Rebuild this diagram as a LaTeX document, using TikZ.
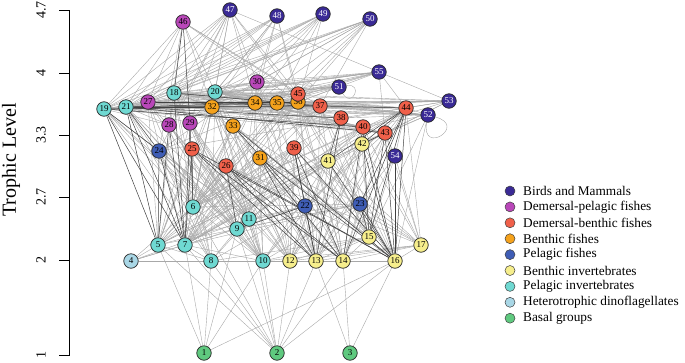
\documentclass[tikz,border=0pt]{standalone}
\usepackage{fontspec}
\setmainfont{Liberation Serif}
\usetikzlibrary{backgrounds}
\definecolor{cbm}{RGB}{58,42,150}
\definecolor{cdp}{RGB}{185,71,185}
\definecolor{cdb}{RGB}{240,96,74}
\definecolor{cbf}{RGB}{245,162,28}
\definecolor{cpf}{RGB}{63,93,181}
\definecolor{cbi}{RGB}{246,238,140}
\definecolor{cpi}{RGB}{111,217,210}
\definecolor{chd}{RGB}{169,215,230}
\definecolor{cbg}{RGB}{95,201,127}
\tikzset{
  sp/.style={circle,draw=black!85,line width=0.7pt,minimum size=14.5pt,inner sep=0pt,font=\fontsize{9}{9}\selectfont},
  bm/.style={sp,fill=cbm,text=white},
  dp/.style={sp,fill=cdp},
  db/.style={sp,fill=cdb},
  bf/.style={sp,fill=cbf},
  pf/.style={sp,fill=cpf},
  bi/.style={sp,fill=cbi},
  pi/.style={sp,fill=cpi},
  hd/.style={sp,fill=chd},
  bg/.style={sp,fill=cbg},
  weak/.style={draw=black!34,line width=0.4pt},
  strong/.style={draw=black!75,line width=0.5pt},
  key/.style={circle,draw=black!75,line width=0.5pt,minimum size=10pt,inner sep=0pt},
  keytext/.style={anchor=west,inner sep=0pt,font=\fontsize{13.3}{13.3}\selectfont}
}
\begin{document}
\begin{tikzpicture}[x=1pt,y=-1pt]
  \useasboundingbox (0,0) rectangle (685,362);
  \draw[line width=0.7pt] (69.5,10) -- (69.5,355);
  \foreach \v/\y in {4.7/10,4/73,3.3/135,2.7/197,2/260,1/355} {
    \draw[line width=0.7pt] (59,\y) -- (69.5,\y);
    \node[rotate=90,font=\fontsize{14}{14}\selectfont] (t\v) at (41,\y) {\v};
  }
  \node[rotate=90,font=\fontsize{20}{20}\selectfont] (ylab) at (11,160) {Trophic Level};

  \foreach \i/\x/\y in {1/204/353,2/277/353,3/350/353} \node[bg] (n\i) at (\x,\y) {\i};
  \node[hd] (n4) at (131,261) {4};
  \foreach \i/\x/\y in {5/158/245,6/193/207,7/185/245,8/211/261,9/237/229,10/263/261,11/249/219,18/174/93,19/104/109,20/215/92,21/126/107}
    \node[pi] (n\i) at (\x,\y) {\i};
  \foreach \i/\x/\y in {12/290/261,13/316/261,14/343/261,15/369/237,16/395/261,17/421/245,41/328/161,42/362/144}
    \node[bi] (n\i) at (\x,\y) {\i};
  \foreach \i/\x/\y in {22/305/206,23/360/204,24/159/151} \node[pf] (n\i) at (\x,\y) {\i};
  \foreach \i/\x/\y in {31/260/158,32/212/107,33/233/126,34/255/103,35/277/103,36/298/102}
    \node[bf] (n\i) at (\x,\y) {\i};
  \foreach \i/\x/\y in {25/192/149,26/226/166,37/320/106,38/341/118,39/294/148,40/363/127,43/385/133,44/406/108,45/298/94}
    \node[db] (n\i) at (\x,\y) {\i};
  \foreach \i/\x/\y in {27/148/102,28/169/125,29/190/123,30/257/82,46/183/22}
    \node[dp] (n\i) at (\x,\y) {\i};
  \foreach \i/\x/\y in {47/230/10,48/277/16,49/323/14,50/370/19,51/339/87,52/428/115,53/449/101,54/395/156,55/379/72}
    \node[bm] (n\i) at (\x,\y) {\i};

  \begin{scope}[on background layer]
    \foreach \p/\l in {5/{1,2,4,8},6/{2,4,8,10,5},7/{1,2,4,8,10},8/{1,2,4},9/{1,2,4,8,10},10/{1,2,4},
        11/{2,8,10,4,12},12/{2},13/{2,3,10,12},14/{2,3,10,13},15/{10,12,13,14,8},16/{1,2,3,10,12,13,14},
        17/{10,12,14,16,13},18/{5,6,8,9,11,10},19/{6,8,9,10,11},20/{5,7,9,10,11,8,6,12,13},21/{6,8,9,10,11},
        22/{5,7,10,11,8,12},23/{5,7,10,11,9,6,14},24/{6,8,9,10,11},25/{5,8,10,11,12,9},
        26/{5,6,7,10,11,12,15,17},27/{5,7,6,9,11,18,19,21},28/{6,9,10,11,18,19,21},
        29/{5,9,10,11,12,18,21},30/{18,19,21,20,6,9,11,24,12,13,14},31/{5,6,7,10,12,15,17},
        32/{5,6,7,10,11,13,14,18,20,16,12},33/{5,6,7,10,12,14,15,17},34/{6,7,10,13,14,19,21,18,20,27},
        35/{6,7,12,13,15,16,19,21,18,20},36/{6,7,12,13,14,15,16,19,18},
        37/{6,7,9,13,14,15,16,19,27,20,32},38/{6,7,12,15,16,19,27,18,20},39/{5,6,7,12,15,17,9,11},
        40/{6,7,9,12,13,17,21,27,18,20,41,19,32,34},41/{5,7,10,12,13,14,15,17,9,11},42/{5,7,10,12,13,14,15,17},
        43/{6,7,13,14,17,19,27,18,20,22,41,21,32,34},44/{5,6,7,12,13,17,19,21,18,20,22,24,32,27,36,34,35},
        45/{6,7,9,13,14,16,19,21,27,18,20,24,26},46/{19,21,27,28,20,32,36,24,37,45},
        47/{19,21,27,18,20,32,24,28,29,34,55,30,36,45},48/{21,27,18,20,32,34,19,29,36,45,30},
        49/{21,18,20,32,34,27,35,36,19,30},50/{21,27,18,20,32,34,35,19,36,45,30,37},
        51/{19,21,27,18,20,32,34,35,36,30},
        52/{18,20,32,34,35,36,38,40,43,44,42,16,15,37,19,21,27},53/{18,21,20,32,34,36,37,38,40,43,44,55,42,19,27},
        54/{15,17,13,14,43,44},55/{19,21,27,18,20,32,30,34,35,45,36,43,44}}
      {\foreach \q in \l {\draw[weak] (n\q) -- (n\p);}}
    \foreach \p/\l in {46/{18,29},24/{5,7,19,21},25/{6,7,13,14,16},26/{13,14,16,9},28/{7,5},29/{7,6},
        31/{13,14,16},33/{16,22},37/{21,18},38/{13,41,21},39/{13,14,16,22},40/{14,15,16,19},
        43/{15,16,42,21},44/{14,15,16,41,42,23,27},22/{13,9},23/{16,15},41/{16},42/{16},54/{16},
        18/{7},19/{5,7},21/{5,7},32/{19,21},36/{27,21}}
      {\foreach \q in \l {\draw[strong] (n\q) -- (n\p);}}
    \draw[weak] (n52) to[loop,out=-100,in=-15,min distance=34pt] (n52);
    \draw[weak] (n51) to[loop,out=-60,in=10,min distance=18pt] (n51);
    \draw[weak] (n45) to[loop,out=60,in=0,min distance=16pt] (n45);
    \draw[weak] (n30) to[loop,out=20,in=-30,min distance=18pt] (n30);
  \end{scope}

  \foreach \k/\c/\t in {0/cbm/Birds and Mammals,1/cdp/Demersal-pelagic fishes,2/cdb/Demersal-benthic fishes,
      3/cbf/Benthic fishes,4/cpf/Pelagic fishes,5/cbi/Benthic invertebrates,6/cpi/Pelagic invertebrates,
      7/chd/Heterotrophic dinoflagellates,8/cbg/Basal groups} {
    \node[key,fill=\c] (k\k) at (510,191+15.9*\k) {};
    \node[keytext] (l\k) at (523,191+15.9*\k) {\t};
  }
\end{tikzpicture}
\end{document}
